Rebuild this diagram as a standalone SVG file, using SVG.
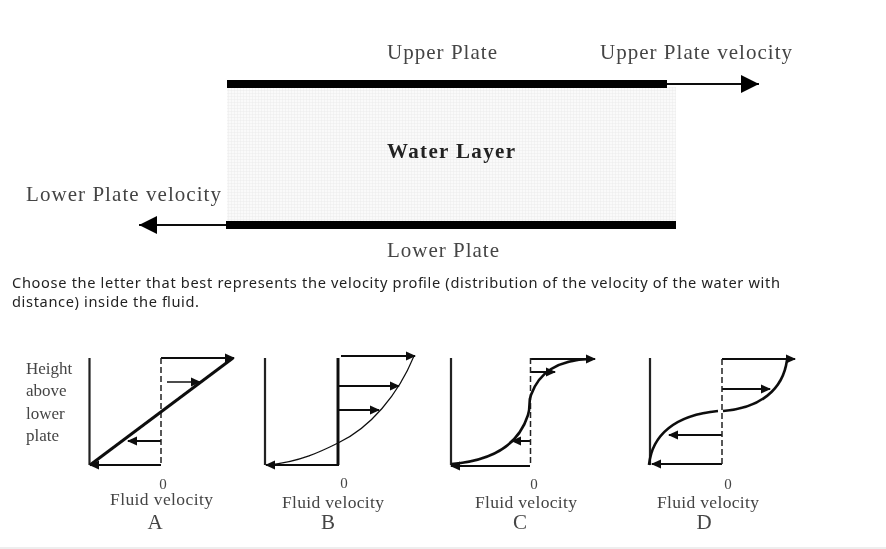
<svg xmlns="http://www.w3.org/2000/svg" width="886" height="549" viewBox="0 0 886 549">
<style>
.s{font-family:"Liberation Serif","Times New Roman",serif;fill:#444}
.b{font-size:21px}
.f{font-size:17.5px}
.h{font-size:17px}
.l{font-size:21px;text-anchor:middle}
.q{font-family:"Noto Sans","Open Sans",sans-serif;font-size:14.6px;fill:#222}
.ln{stroke:#111;fill:none;stroke-width:2}
.ax{stroke:#222;fill:none;stroke-width:2.2}
.d{stroke:#222;fill:none;stroke-width:1.5;stroke-dasharray:6 3}
.c{stroke:#111;fill:none;stroke-width:2.6}
</style>
<defs>
<pattern id="grid" width="3" height="3" patternUnits="userSpaceOnUse"><rect width="3" height="3" fill="#fafafa"/><path d="M0 0H3M0 0V3" stroke="#ececec" stroke-width="1"/></pattern>
<marker id="big" viewBox="0 0 18 18" refX="18" refY="9" markerWidth="18" markerHeight="18" markerUnits="userSpaceOnUse" orient="auto-start-reverse"><path d="M0 0L18 9L0 18Z" fill="#000"/></marker>
<marker id="sm" viewBox="0 0 10 10" refX="9" refY="5" markerWidth="10" markerHeight="10" markerUnits="userSpaceOnUse" orient="auto"><path d="M0 0.5L10 5L0 9.5Z" fill="#111"/></marker>
<filter id="soft" x="-2%" y="-2%" width="104%" height="104%"><feGaussianBlur stdDeviation="0.35"/></filter>
</defs>
<rect width="886" height="549" fill="#fff"/>
<rect y="547" width="886" height="2" fill="#eee"/>
<g filter="url(#soft)">
<g id="water-layer"><rect x="227" y="87" width="449" height="135" fill="url(#grid)"/><text class="s" x="387" y="158" font-size="21" font-weight="bold" fill="#222" style="fill:#222" textLength="128">Water  Layer</text></g>
<g id="upper-plate"><rect x="227" y="80" width="440" height="8" fill="#000"/><text class="s b" x="387" y="59" textLength="110">Upper Plate</text></g>
<g id="lower-plate"><rect x="226" y="221" width="450" height="8" fill="#000"/><text class="s b" x="387" y="257" textLength="112">Lower Plate</text></g>
<g id="upper-velocity-label"><text class="s b" x="600" y="59" textLength="192">Upper Plate velocity</text></g>
<g id="lower-velocity-label"><text class="s b" x="26" y="201" textLength="195">Lower Plate velocity</text></g>
<g id="question"><text class="q" x="12" y="288" textLength="768">Choose the letter that best represents the velocity profile (distribution of the velocity of the water with</text><text class="q" x="12" y="307" textLength="187">distance) inside the fluid.</text></g>
<g id="axis-label"><text class="s h" x="26" y="374">Height</text><text class="s h" x="26" y="396">above</text><text class="s h" x="26" y="419">lower</text><text class="s h" x="26" y="441">plate</text></g>

<g id="connectors">
<path class="ln" d="M667 84H759" marker-end="url(#big)"/>
<path class="ln" d="M226 225H139" marker-end="url(#big)"/>
<!-- A -->
<path class="ln" d="M161 358H234" marker-end="url(#sm)"/>
<path class="ln" style="stroke-width:1.5" d="M167 382H200" marker-end="url(#sm)"/>
<path class="ln" d="M161 441H128" marker-end="url(#sm)"/>
<path class="ln" d="M161 465H90" marker-end="url(#sm)"/>
<!-- B -->
<path class="ln" d="M341 356H415" marker-end="url(#sm)"/>
<path class="ln" d="M338 386H399" marker-end="url(#sm)"/>
<path class="ln" d="M338 410H379" marker-end="url(#sm)"/>
<path class="ln" d="M339 465H266" marker-end="url(#sm)"/>
<!-- C -->
<path class="ln" d="M530 359H595" marker-end="url(#sm)"/>
<path class="ln" d="M530 372H555" marker-end="url(#sm)"/>
<path class="ln" d="M530 441H512" marker-end="url(#sm)"/>
<path class="ln" d="M530 466H451" marker-end="url(#sm)"/>
<!-- D -->
<path class="ln" d="M722 359H795" marker-end="url(#sm)"/>
<path class="ln" d="M722 389H770" marker-end="url(#sm)"/>
<path class="ln" d="M722 435H669" marker-end="url(#sm)"/>
<path class="ln" d="M722 464H652" marker-end="url(#sm)"/>
</g>

<g id="profile-a"><path class="ax" d="M89.500 358V465"/><path class="d" d="M161 358V465"/><path class="c" style="stroke-width:3" d="M90 465L233 358"/><text class="s" font-size="15" x="163" y="489" text-anchor="middle">0</text><text class="s f" x="110" y="505" textLength="103">Fluid velocity</text><text class="s l" x="155" y="529">A</text></g>
<g id="profile-b"><path class="ax" d="M265 358V465"/><path class="ln" style="stroke-width:3" d="M338 358V465"/><path class="ln" style="stroke-width:1.200" d="M268 465C300 462 322 451 338 443C370 428 398 395 414 356"/><text class="s" font-size="15" x="344" y="488" text-anchor="middle">0</text><text class="s f" x="282" y="508" textLength="102">Fluid velocity</text><text class="s l" x="328" y="529">B</text></g>
<g id="profile-c"><path class="ax" d="M451 358V465"/><path class="d" d="M530.500 358V466"/><path class="c" d="M451 464C490 461 518 447 528 415C531 405 528 402 531 395C538 375 555 360 590 359"/><text class="s" font-size="15" x="534" y="489" text-anchor="middle">0</text><text class="s f" x="475" y="508" textLength="102">Fluid velocity</text><text class="s l" x="520" y="529">C</text></g>
<g id="profile-d"><path class="ax" d="M650 358V465"/><path class="d" d="M722 359V465"/><path class="c" d="M649 465C652 435 675 415 718 411"/><path class="c" d="M723 411C760 408 783 390 787 360"/><text class="s" font-size="15" x="728" y="489" text-anchor="middle">0</text><text class="s f" x="657" y="508" textLength="102">Fluid velocity</text><text class="s l" x="704" y="529">D</text></g>
</g>
</svg>
